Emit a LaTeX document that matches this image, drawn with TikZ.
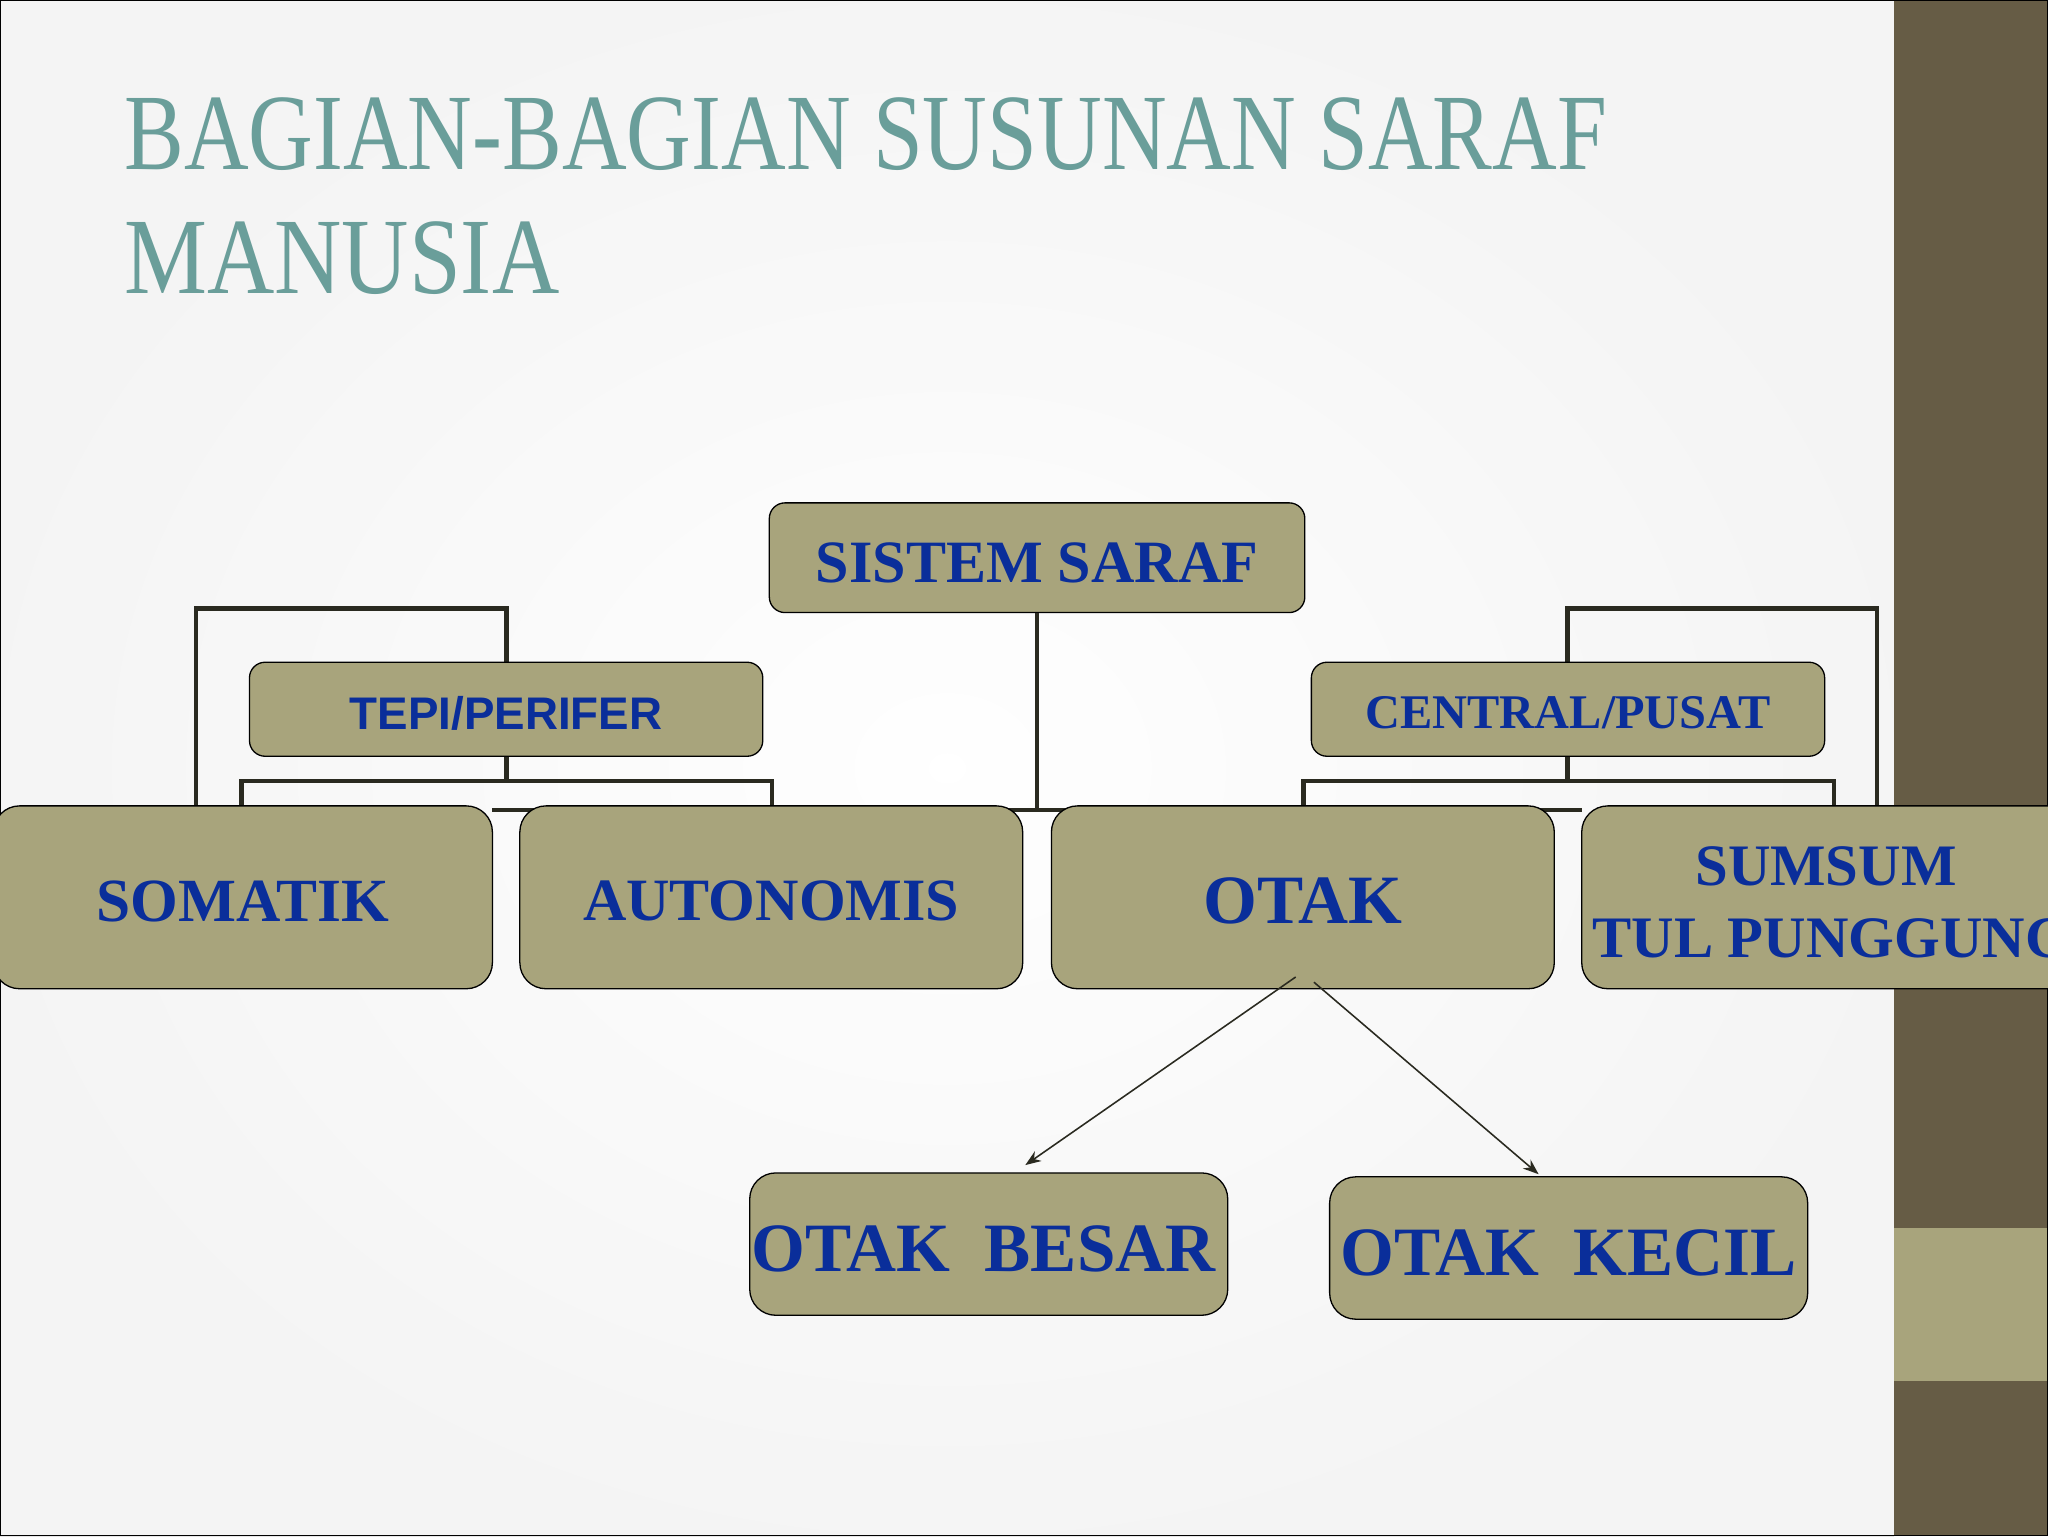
\documentclass[tikz,border=0pt]{standalone}
\usepackage{fontspec}
\setmainfont{Liberation Serif}
\newfontfamily\sansb{Liberation Sans}
\usetikzlibrary{arrows.meta}
\definecolor{olive}{HTML}{A8A47C}
\definecolor{darkol}{HTML}{665C45}
\definecolor{tblue}{HTML}{0A2E9A}
\definecolor{teal}{HTML}{6A9E9A}
\definecolor{linec}{HTML}{2A2A20}
\tikzset{
  box/.style={draw=black,line width=1pt,fill=olive,rounded corners=12pt,inner sep=0pt},
  bigbox/.style={box,rounded corners=20pt},
  btxt/.style={text=tblue,font=\bfseries},
  bus/.style={draw=linec,line width=3.5pt},
  arr/.style={draw=linec,line width=1.2pt,-{Stealth[length=12pt,width=9pt]}}
}
\begin{document}
\begin{tikzpicture}[x=1pt,y=-1pt]
\useasboundingbox (0,0) rectangle (1568,1176);
\clip (0,0) rectangle (1568,1176);
\shade[inner color=white,outer color=white!80!gray] (0,0) rectangle (1450,1176);
\fill[white,opacity=0.6] (0,0) rectangle (1450,1176);
\fill[darkol] (1450,0) rectangle (1568,1176);
\fill[olive] (1450,940) rectangle (1568,1057);
\draw[black,line width=1pt] (0.5,0.5) rectangle (1567.5,1175.5);
% title
\node[anchor=base west,inner sep=0pt,text=teal] (t1) at (95,130) {\resizebox{1135pt}{55pt}{BAGIAN-BAGIAN SUSUNAN SARAF}};
\node[anchor=base west,inner sep=0pt,text=teal] (t2) at (95,225) {\resizebox{333pt}{55pt}{MANUSIA}};
% coordinates
\coordinate (b1) at (377,620); \coordinate (b2) at (1211,620);
\coordinate (la) at (150,620); \coordinate (lb) at (150,466); \coordinate (lc) at (388,466);
\coordinate (ra) at (1437,620); \coordinate (rb) at (1437,466); \coordinate (rc) at (1200,466);
\node[box,minimum width=410pt,minimum height=84pt] (ss) at (794,427) {};
% lines behind
\draw[bus] (b1) -- (b2);
\draw[bus] (ss.south) -- (794,620);
\draw[bus] (la) -- (lb) -- (lc) -- (388,507);
\draw[bus] (ra) -- (rb) -- (rc) -- (1200,507);
\draw[bus] (388,579) -- (388,598);
\draw[bus] (185,617) -- (185,598) -- (591,598) -- (591,617);
\draw[bus] (1200,579) -- (1200,598);
\draw[bus] (998,617) -- (998,598) -- (1404,598) -- (1404,617);
% nodes
\node[btxt,font=\bfseries\fontsize{46}{50}\selectfont] at (794,431) {SISTEM SARAF};
\node[box,minimum width=393pt,minimum height=72pt] (tp) at (387.5,543) {};
\node[btxt,font=\sansb\bfseries\fontsize{35}{40}\selectfont] at (387.5,546) {TEPI/PERIFER};
\node[box,minimum width=393pt,minimum height=72pt] (cp) at (1200.5,543) {};
\node[btxt,font=\bfseries\fontsize{37}{42}\selectfont] at (1200.5,546) {CENTRAL/PUSAT};
\node[bigbox,minimum width=382pt,minimum height=140pt] (so) at (186,687) {};
\node[btxt,font=\bfseries\fontsize{47}{50}\selectfont] at (186,690) {SOMATIK};
\node[bigbox,minimum width=385pt,minimum height=140pt] (au) at (590.5,687) {};
\node[btxt,font=\bfseries\fontsize{46}{50}\selectfont] at (590.5,690) {AUTONOMIS};
\node[bigbox,minimum width=385pt,minimum height=140pt] (ot) at (997.5,687) {};
\node[btxt,font=\bfseries\fontsize{53}{56}\selectfont] at (997.5,690) {OTAK};
\node[bigbox,minimum width=380pt,minimum height=140pt] (su) at (1401,687) {};
\node[btxt,font=\bfseries\fontsize{45}{50}\selectfont,anchor=base] at (1398,678) {SUMSUM};
\node[btxt,font=\bfseries\fontsize{45}{50}\selectfont,anchor=base west,inner sep=0pt] at (1219,733) {TUL PUNGGUNG};
\node[bigbox,minimum width=366pt,minimum height=109pt] (ob) at (757,952.5) {};
\node[btxt,font=\bfseries\fontsize{53}{56}\selectfont] at (753,956) {OTAK\ \ BESAR};
\node[bigbox,minimum width=366pt,minimum height=109pt] (ok) at (1201,955.5) {};
\node[btxt,font=\bfseries\fontsize{53}{56}\selectfont] at (1201,959) {OTAK\ \ KECIL};
\draw[arr] (992,748) -- (785,892);
\draw[arr] (1006,752) -- (1178,899);
\end{tikzpicture}
\end{document}
